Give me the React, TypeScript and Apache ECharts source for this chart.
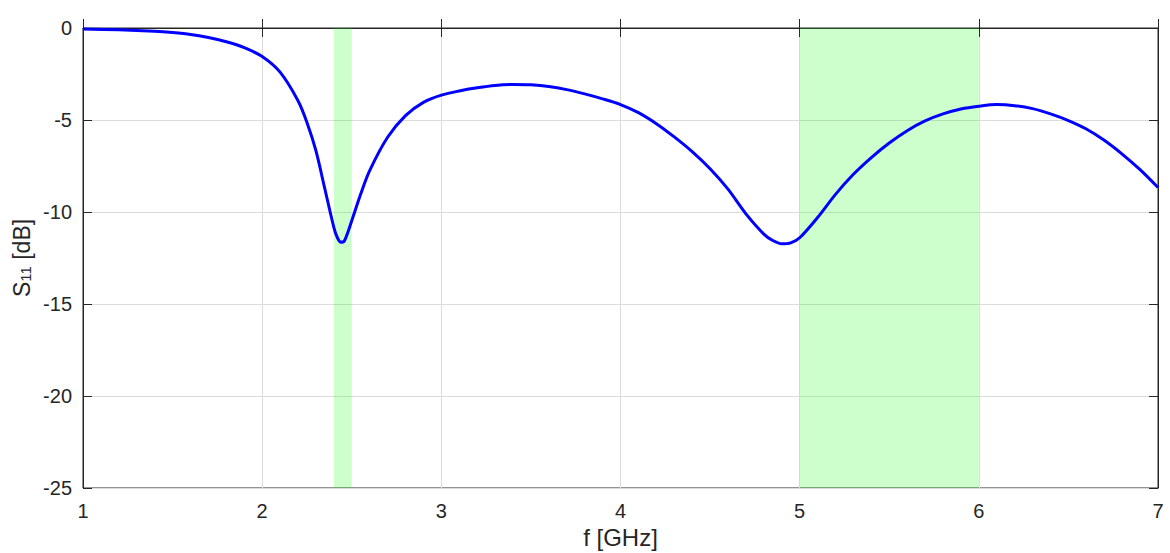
import React, { useEffect, useRef } from "react";
import * as echarts from "echarts";

const freqGHz = [
  1.0, 1.2, 1.4, 1.5, 1.6, 1.7, 1.8, 1.9, 2.0, 2.1, 2.2, 2.25, 2.3, 2.35, 2.4, 2.42, 2.44, 2.46, 2.5, 2.55,
  2.6, 2.7, 2.8, 2.9, 3.0, 3.1, 3.2, 3.3, 3.4, 3.5, 3.6, 3.7, 3.8, 3.9, 4.0, 4.1, 4.2, 4.3, 4.4, 4.5,
  4.6, 4.7, 4.8, 4.85, 4.9, 4.95, 5.0, 5.1, 5.2, 5.3, 5.4, 5.5, 5.6, 5.7, 5.8, 5.9, 6.0, 6.1, 6.2, 6.3,
  6.4, 6.5, 6.6, 6.7, 6.8, 6.9, 7.0,
];
const s11dB = [
  -0.05, -0.1, -0.18, -0.25, -0.35, -0.52, -0.75, -1.07, -1.55, -2.4, -3.95, -5.13, -6.67, -8.75, -10.83, -11.4, -11.65, -11.55, -10.47, -9.02,
  -7.75, -5.94, -4.76, -4.04, -3.65, -3.42, -3.25, -3.12, -3.07, -3.09, -3.18, -3.35, -3.58, -3.85, -4.16, -4.6, -5.2, -5.92, -6.72, -7.65,
  -8.76, -10.1, -11.2, -11.55, -11.73, -11.68, -11.4, -10.3, -9.04, -7.95, -7.04, -6.25, -5.58, -5.05, -4.67, -4.4, -4.25, -4.16, -4.22, -4.38,
  -4.67, -5.03, -5.49, -6.1, -6.85, -7.7, -8.67,
];
const bands = [
  [2.4, 2.5],
  [5.0, 6.0],
];
const xTicks = [1, 7, 1];
const yTicks = [-25, 0, 5];

export default function App() {
  const ref = useRef<HTMLDivElement>(null);
  useEffect(() => {
    if (!ref.current) return;
    const chart = echarts.init(ref.current, null, { renderer: "svg" });
    const font = "'Liberation Sans', Arial, Helvetica, sans-serif";
    const axisColor = "#262626";
    const data = freqGHz.map((f, i) => [f, s11dB[i]]);
    chart.setOption({
      animation: false,
      backgroundColor: "#ffffff",
      grid: {
        left: 83,
        right: 12,
        top: 28,
        bottom: 65,
        outerBoundsMode: "none",
        containLabel: false,
        show: true,
        borderColor: axisColor,
        borderWidth: 1,
        backgroundColor: "transparent",
      },
      xAxis: [
        {
          type: "value",
          min: xTicks[0],
          max: xTicks[1],
          interval: xTicks[2],
          name: "f [GHz]",
          nameLocation: "middle",
          nameGap: 37,
          nameMoveOverlap: false,
          nameTextStyle: { fontFamily: font, fontSize: 24, color: axisColor },
          axisLine: { show: true, lineStyle: { color: axisColor, width: 1 } },
          axisTick: { show: true, inside: true, length: 9, lineStyle: { color: axisColor } },
          axisLabel: { fontFamily: font, fontSize: 20, color: axisColor, margin: 13 },
          splitLine: { show: true, lineStyle: { color: "#dcdcdc", width: 1 } },
        },
        {
          type: "value",
          position: "top",
          min: xTicks[0],
          max: xTicks[1],
          interval: xTicks[2],
          axisLine: { show: true, lineStyle: { color: axisColor, width: 1 } },
          axisTick: { show: true, inside: true, length: 9, lineStyle: { color: axisColor } },
          axisLabel: { show: false },
          splitLine: { show: false },
        },
      ],
      yAxis: [
        {
          type: "value",
          min: yTicks[0],
          max: yTicks[1],
          interval: yTicks[2],
          name: "{s|S}{sub|11}{s| [dB]}",
          nameLocation: "middle",
          nameGap: 50,
          nameMoveOverlap: false,
          nameRotate: 90,
          nameTextStyle: {
            fontFamily: font,
            fontSize: 23,
            color: axisColor,
            rich: {
              s: { fontFamily: font, fontSize: 23, color: axisColor },
              sub: { fontFamily: font, fontSize: 15, color: axisColor, verticalAlign: "bottom", padding: [8, 0, 0, 0] },
            },
          },
          axisLine: { show: true, lineStyle: { color: axisColor, width: 1 } },
          axisTick: { show: true, inside: true, length: 9, lineStyle: { color: axisColor } },
          axisLabel: { fontFamily: font, fontSize: 20, color: axisColor, margin: 11 },
          splitLine: { show: true, lineStyle: { color: "#dcdcdc", width: 1 } },
        },
        {
          type: "value",
          position: "right",
          min: yTicks[0],
          max: yTicks[1],
          interval: yTicks[2],
          axisLine: { show: true, lineStyle: { color: axisColor, width: 1 } },
          axisTick: { show: true, inside: true, length: 9, lineStyle: { color: axisColor } },
          axisLabel: { show: false },
          splitLine: { show: false },
        },
      ],
      series: [
        {
          type: "line",
          xAxisIndex: 0,
          yAxisIndex: 0,
          data,
          smooth: 0.3,
          showSymbol: false,
          lineStyle: { color: "#0000ff", width: 3 },
          z: 3,
          markArea: {
            silent: true,
            itemStyle: { color: "rgba(0,255,0,0.2)" },
            data: bands.map(([a, b]) => [{ xAxis: a }, { xAxis: b }]),
          },
        },
      ],
    });
    return () => chart.dispose();
  }, []);
  return (
    <div
      ref={ref}
      style={{ position: "fixed", left: 0, top: 0, width: 1170, height: 553, background: "#fff" }}
    />
  );
}
